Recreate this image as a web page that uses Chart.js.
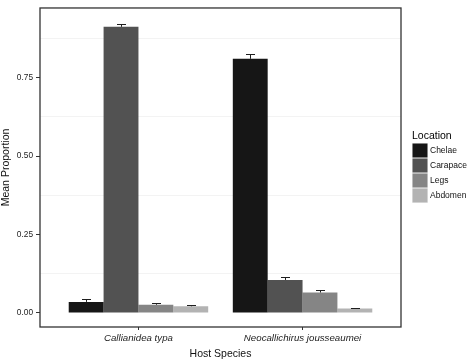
<!DOCTYPE html>
<html><head><meta charset="utf-8">
<script src="https://cdn.jsdelivr.net/npm/chart.js@4/dist/chart.umd.min.js"></script>
<style>html,body{margin:0;padding:0;background:#fff}#w{width:474px;height:361px}</style>
</head><body><div id="w"><canvas id="c"></canvas></div>
<script>
const categories = ["Callianidea typa", "Neocallichirus jousseaumei"];
const locations = ["Chelae", "Carapace", "Legs", "Abdomen"];
const chelae = [0.035, 0.81];
const carapace = [0.912, 0.105];
const legs = [0.026, 0.065];
const abdomen = [0.021, 0.014];
const chelaeErr = [0.045, 0.825];
const carapaceErr = [0.922, 0.115];
const legsErr = [0.030, 0.072];
const abdomenErr = [0.025, 0.017];
const yTicks = [0, 0.25, 0.5, 0.75];
const yMinor = [0.125, 0.375, 0.625, 0.875];

const colors = ["#161616", "#525252", "#858585", "#b3b3b3"];
const values = [chelae, carapace, legs, abdomen];
const errs = [chelaeErr, carapaceErr, legsErr, abdomenErr];
const FONT = "'Liberation Sans', Arial, sans-serif";

const datasets = locations.map((name, i) => ({
  label: name,
  data: values[i].map((v, j) => ({x: j + 1, y: v})),
  err: errs[i],
  backgroundColor: colors[i],
  borderWidth: 0,
  categoryPercentage: 0.85,
  barPercentage: 1.0
}));

const isMajor = v => yTicks.some(t => Math.abs(t - v) < 1e-6);

const errorBars = {
  id: 'errorBars',
  afterDatasetsDraw(chart) {
    const ctx = chart.ctx, ys = chart.scales.y;
    ctx.save();
    ctx.strokeStyle = '#1e1e1e';
    ctx.lineWidth = 1;
    chart.data.datasets.forEach((ds, i) => {
      const meta = chart.getDatasetMeta(i);
      meta.data.forEach((el, j) => {
        const top = ys.getPixelForValue(ds.err[j]);
        const x = Math.round(el.x) + 0.5;
        ctx.beginPath();
        ctx.moveTo(x, el.y);
        ctx.lineTo(x, Math.round(top) + 0.5);
        ctx.moveTo(x - 4.5, Math.round(top) + 0.5);
        ctx.lineTo(x + 4.5, Math.round(top) + 0.5);
        ctx.stroke();
      });
    });
    ctx.restore();
  }
};

const frameAndLegend = {
  id: 'frameAndLegend',
  afterDraw(chart) {
    const ctx = chart.ctx, a = chart.chartArea;
    ctx.save();
    ctx.strokeStyle = '#333333';
    ctx.lineWidth = 1.3;
    ctx.strokeRect(a.left, a.top, a.right - a.left, a.bottom - a.top);
    // legend
    const lx = 412, ly = 143, kw = 15, kh = 15;
    ctx.fillStyle = '#000';
    ctx.font = "10.5px " + FONT;
    ctx.textBaseline = 'alphabetic';
    ctx.textAlign = 'left';
    ctx.fillText('Location', lx, ly - 4);
    chart.data.datasets.forEach((ds, i) => {
      ctx.fillStyle = '#f2f2f2';
      ctx.fillRect(lx, ly + i * kh, kw + 1, kh);
      ctx.fillStyle = ds.backgroundColor;
      ctx.fillRect(lx + 0.5, ly + i * kh + 0.5, kw, kh - 1);
      ctx.fillStyle = '#111';
      ctx.font = "8.5px " + FONT;
      ctx.textBaseline = 'middle';
      ctx.fillText(ds.label, lx + kw + 3, ly + i * kh + kh / 2 + 0.5);
    });
    ctx.restore();
  }
};

new Chart(document.getElementById('c'), {
  type: 'bar',
  data: { datasets },
  options: {
    responsive: true,
    maintainAspectRatio: false,
    animation: false,
    layout: { padding: { left: 0, top: 5, right: 73, bottom: 0 } },
    plugins: { legend: { display: false }, tooltip: { enabled: false } },
    scales: {
      x: {
        type: 'linear',
        min: 0.4, max: 2.6,
        offset: false,
        afterBuildTicks: s => { s.ticks = [{value: 1}, {value: 2}]; },
        afterFit: s => { s.height = 34; },
        ticks: {
          callback: v => categories[Math.round(v) - 1],
          font: { family: FONT, size: 9.7, style: 'italic' },
          color: '#222',
          padding: 2,
          maxRotation: 0, autoSkip: false
        },
        grid: { offset: false, drawOnChartArea: false, tickLength: 3, tickColor: '#333', lineWidth: 1 },
        border: { display: false },
        title: { display: true, text: 'Host Species', font: { family: FONT, size: 10.5 }, color: '#111', padding: { top: 0, bottom: 1 } }
      },
      y: {
        min: -0.045, max: 0.972,
        afterBuildTicks: s => { s.ticks = yTicks.concat(yMinor).sort((a, b) => a - b).map(v => ({value: v})); },
        afterFit: s => { s.width = 40; },
        ticks: {
          callback: v => isMajor(v) ? v.toFixed(2) : '',
          font: { family: FONT, size: 8.3 },
          color: '#222',
          padding: 3
        },
        grid: {
          color: c => (c.tick && isMajor(c.tick.value)) ? 'rgba(0,0,0,0)' : '#f3f3f3',
          tickColor: c => (c.tick && isMajor(c.tick.value)) ? '#333' : 'rgba(0,0,0,0)',
          tickLength: 4,
          lineWidth: 1
        },
        border: { display: false },
        title: { display: true, text: 'Mean Proportion', font: { family: FONT, size: 10.5 }, color: '#111', padding: { top: 0, bottom: 0 } }
      }
    }
  },
  plugins: [errorBars, frameAndLegend]
});
</script>
</body></html>
